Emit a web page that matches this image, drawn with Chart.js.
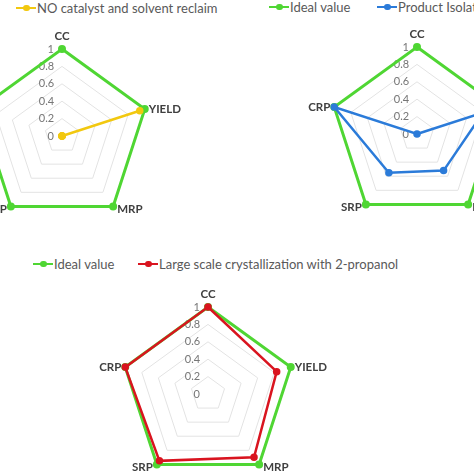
<!DOCTYPE html>
<html>
<head>
<meta charset="utf-8">
<script src="https://cdn.jsdelivr.net/npm/chart.js@4.4.0/dist/chart.umd.min.js"></script>
<style>
  body { margin: 0; background: #fff; width: 474px; height: 474px; overflow: hidden; position: relative; font-family: Lato, sans-serif; }
  canvas { position: absolute; }
  .item { position: absolute; display: flex; align-items: center; white-space: nowrap; font: 13px Lato, sans-serif; color: #595959; }
  .mk { display: inline-block; width: 20px; height: 2.5px; position: relative; margin-right: 1px; }
  .mk i { position: absolute; left: 7px; top: -2px; width: 6.5px; height: 6.5px; border-radius: 50%; background: inherit; }
</style>
</head>
<body>
<canvas id="c1" width="260" height="230" style="left:-67px;top:22px"></canvas>
<canvas id="c2" width="260" height="230" style="left:288px;top:20px"></canvas>
<canvas id="c3" width="260" height="230" style="left:79px;top:280px"></canvas>
<script>
// radar axes and series values
const axes = ['CC', 'YIELD', 'MRP', 'SRP', 'CRP'];
const tickValues = [0, 0.2, 0.4, 0.6, 0.8, 1];
const idealValue = [1, 1, 1, 1, 1];
const noCatalyst = [0, 0.94, 0, 0, 0];
const productIsolation = [0, 0.8, 0.52, 0.55, 1];
const largeScale = [1, 0.83, 0.9, 0.95, 1];

const GREEN = '#4fd633';
const measure = document.createElement('canvas').getContext('2d');

// Excel puts the value labels just left of the vertical axis; pad with trailing spaces
function padLabel(txt) {
  measure.font = '11px Lato';
  const w = measure.measureText(txt).width;
  const sw = measure.measureText(' ').width;
  return txt + ' '.repeat(Math.round((w + 16) / sw));
}

// category labels placed the Excel way: beside the side vertices, above the top one
const excelLabels = {
  id: 'excelLabels',
  afterDraw(chart) {
    const s = chart.scales.r;
    const ctx = chart.ctx;
    ctx.save();
    ctx.font = 'bold 11.5px Lato';
    ctx.fillStyle = '#404040';
    ctx.textBaseline = 'middle';
    chart.data.labels.forEach((txt, i) => {
      const p = s.getPointPosition(i, s.drawingArea);
      const dx = p.x - s.xCenter;
      if (Math.abs(dx) < 1) {
        ctx.textAlign = 'center';
        ctx.fillText(txt, p.x, p.y - 13);
      } else {
        ctx.textAlign = dx > 0 ? 'left' : 'right';
        ctx.fillText(txt, p.x + Math.sign(dx) * 4, p.y + (p.y > s.yCenter ? 3 : 0));
      }
    });
    ctx.restore();
  }
};

function legendItem(text, color, left, top) {
  const d = document.createElement('div');
  d.className = 'item';
  d.style.left = left + 'px';
  d.style.top = top + 'px';
  d.innerHTML = '<span class="mk" style="background:' + color + '"><i></i></span>' + text;
  document.body.appendChild(d);
}

function radar(id, label, values, color) {
  new Chart(document.getElementById(id), {
    type: 'radar',
    data: {
      labels: axes,
      datasets: [
        { label: 'Ideal value', data: idealValue, borderColor: GREEN, backgroundColor: GREEN,
          borderWidth: 3, pointRadius: 2.5, fill: false, order: 2 },
        { label: label, data: values, borderColor: color, backgroundColor: color,
          borderWidth: 2.5, pointRadius: 2.5, fill: false, order: 1 }
      ]
    },
    options: {
      responsive: false,
      animation: false,
      layout: { padding: { left: 35, right: 36, top: 20, bottom: 21 } },
      plugins: { legend: { display: false }, tooltip: { enabled: false } },
      scales: {
        r: {
          min: 0,
          max: 1,
          afterBuildTicks: s => { s.ticks = [{ value: 0 }].concat(tickValues.map(v => ({ value: v }))); },
          ticks: {
            showLabelBackdrop: false,
            color: '#767676',
            font: { family: 'Lato', size: 11 },
            callback: v => padLabel(String(v))
          },
          grid: { color: '#e3e3e3', lineWidth: 1 },
          angleLines: { display: false },
          pointLabels: { display: false }
        }
      }
    },
    plugins: [excelLabels]
  });
}

legendItem('Ideal value', GREEN, -100, 0);
legendItem('NO catalyst and solvent reclaim', '#f2c80f', 16, 0);
legendItem('Ideal value', GREEN, 269, -1);
legendItem('Product Isolation', '#2b7bd9', 377, -1);
legendItem('Ideal value', GREEN, 33, 256);
legendItem('Large scale crystallization with 2-propanol', '#d9141f', 138, 256);

radar('c1', 'NO catalyst and solvent reclaim', noCatalyst, '#f2c80f');
radar('c2', 'Product Isolation', productIsolation, '#2b7bd9');
radar('c3', 'Large scale crystallization with 2-propanol', largeScale, '#d9141f');
</script>
</body>
</html>
